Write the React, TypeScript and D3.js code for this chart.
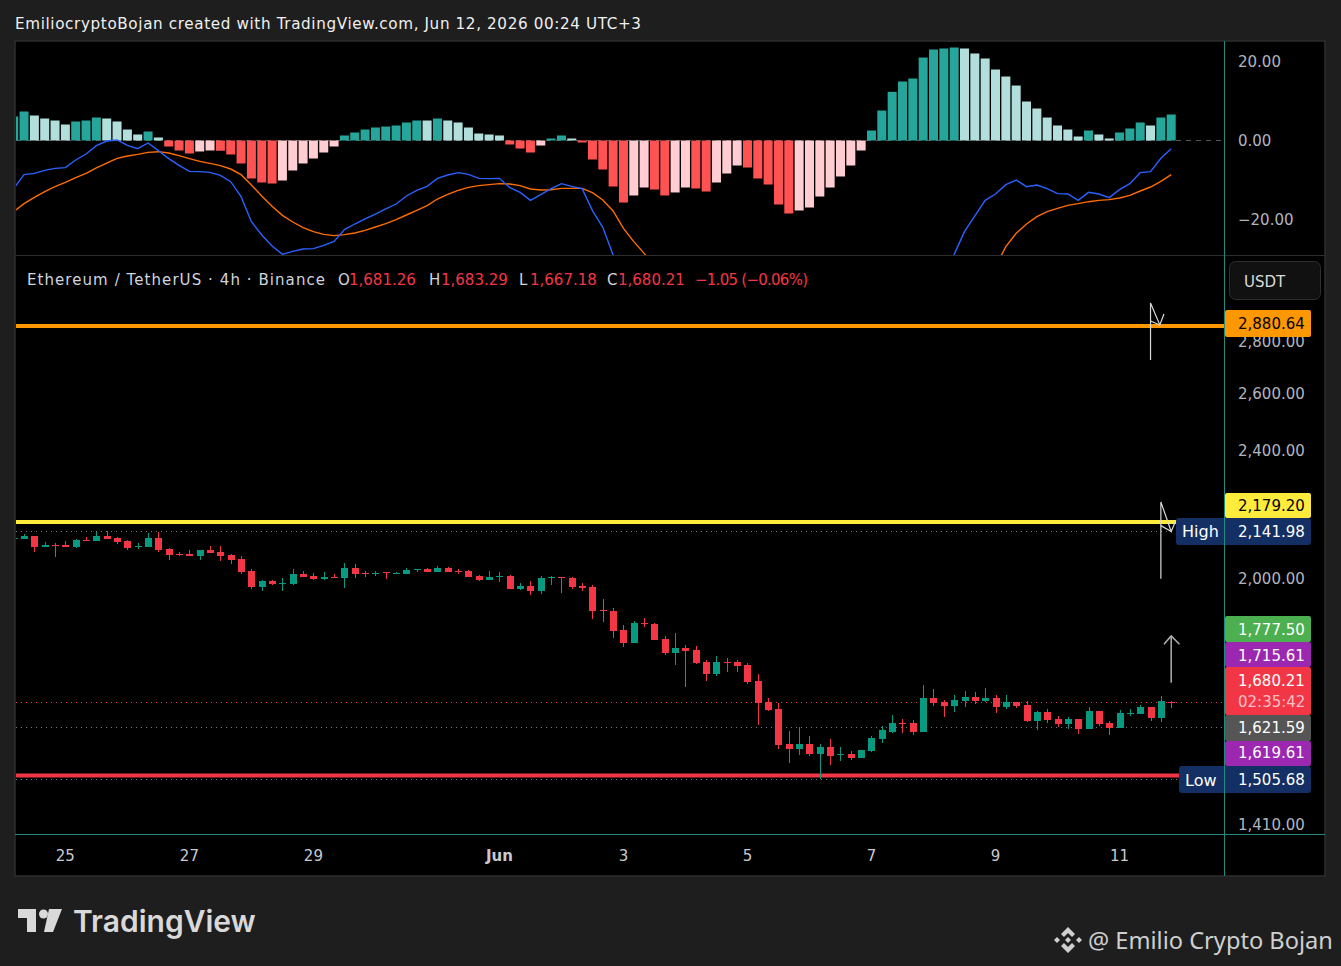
import * as d3 from 'd3';

const opens = [
  2118,2118,2128,2094,2100,2100,2094,2115,2112,2128,
  2121,2112,2094,2094,2121,2089,2074,2074,2068,2086,
  2080,2071,2059,2024,1979,1996,1987,1987,2016,2010,
  2002,2007,2004,2033,2019,2016,2020,2016,2016,2027,
  2030,2022,2033,2024,2024,2010,1999,2007,2010,1973,
  1982,1968,2004,2007,2004,1982,1979,1915,1913,1862,
  1827,1881,1878,1838,1802,1815,1809,1779,1749,1779,
  1779,1771,1731,1681,1664,1584,1572,1584,1561,1577,
  1559,1561,1552,1568,1595,1610,1631,1631,1610,1690,
  1681,1671,1683,1693,1683,1690,1669,1681,1674,1636,
  1657,1641,1629,1641,1617,1659,1631,1620,1652,1652,
  1669,1643,1681.26,
];
const highs = [
  2121,2134,2128,2109,2106,2112,2118,2125,2140,2142,
  2125,2115,2106,2137,2140,2092,2080,2086,2086,2097,
  2097,2074,2068,2030,1999,1999,2004,2030,2024,2019,
  2022,2016,2047,2045,2024,2024,2022,2022,2033,2030,
  2033,2039,2036,2030,2027,2013,2024,2022,2013,1990,
  1996,2010,2010,2007,2007,1990,1985,1945,1921,1875,
  1886,1894,1881,1846,1854,1822,1820,1784,1794,1789,
  1784,1776,1749,1690,1678,1613,1622,1602,1584,1595,
  1577,1568,1570,1602,1624,1650,1640,1638,1722,1712,
  1685,1697,1707,1705,1714,1697,1697,1681,1683,1659,
  1664,1648,1645,1641,1669,1659,1636,1662,1664,1674,
  1669,1695,1683.29,
];
const lows = [
  2118,2118,2080,2094,2065,2094,2092,2112,2112,2118,
  2103,2086,2089,2094,2080,2056,2068,2068,2056,2077,
  2053,2045,2016,1973,1968,1985,1968,1985,2007,1999,
  1999,2004,1976,2004,2007,2010,2002,2016,2016,2022,
  2022,2022,2022,2016,2007,1996,1999,1993,1973,1971,
  1957,1959,1985,1962,1973,1968,1891,1883,1841,1817,
  1827,1870,1835,1797,1771,1717,1774,1731,1744,1754,
  1754,1724,1627,1659,1572,1541,1559,1557,1506,1536,
  1545,1548,1552,1566,1586,1608,1608,1604,1610,1671,
  1645,1657,1669,1676,1681,1655,1664,1666,1634,1615,
  1631,1622,1617,1606,1617,1624,1604,1620,1648,1652,
  1636,1634,1667.18,
];
const closes = [
  2121,2128,2094,2100,2097,2094,2115,2112,2128,2118,
  2109,2092,2097,2121,2086,2071,2071,2068,2086,2077,
  2068,2056,2022,1979,1996,1987,1990,2016,2007,2002,
  2007,2004,2033,2016,2016,2019,2018,2019,2027,2030,
  2022,2033,2022,2022,2007,1999,2007,2010,1973,1982,
  1968,2004,2007,2004,1979,1976,1913,1913,1859,1827,
  1881,1878,1835,1802,1815,1807,1776,1749,1779,1776,
  1769,1729,1678,1662,1581,1572,1584,1561,1577,1557,
  1561,1552,1570,1597,1615,1631,1629,1610,1690,1678,
  1671,1685,1693,1683,1690,1669,1681,1671,1636,1657,
  1638,1629,1641,1617,1659,1629,1620,1655,1655,1669,
  1643,1683,1680.21,
];

// MACD pane
const histogram = [
  6.08,7.34,6.33,5.57,5.06,4.05,4.81,5.06,5.82,5.57,4.81,2.78,1.52,2.28,0.76,
  -1.52,-2.53,-3.29,-2.78,-2.53,-2.6,-3.54,-5.82,-9.62,-10.63,-10.89,-10.13,-7.59,-5.82,-4.56,-3.04,-1.52,
  1.27,2.03,2.78,3.29,3.54,3.8,4.56,5.06,5.06,5.57,5.06,4.56,3.29,1.77,1.52,1.27,
  -1.01,-2.03,-3.04,-1.27,0.51,1.27,0.51,-0.51,
  -4.81,-7.34,-11.65,-15.7,-13.92,-11.9,-12.41,-13.92,-13.16,-11.9,-12.15,-12.91,-10.63,-8.35,-6.33,-6.84,
  -9.62,-11.14,-16.2,-18.48,-17.72,-16.96,-14.18,-11.9,-9.11,-6.33,-2.53,
  2.53,7.59,12.32,14.94,15.7,21.0,23.04,23.29,23.54,23.29,22.03,20.76,17.97,16.2,13.92,9.87,8.1,5.82,3.8,2.78,1.01,
  2.53,1.52,0.51,2.03,3.04,4.56,3.8,5.82,6.58,
];
const off = null; // below the bottom of the pane, not visible
const macdLine: (number | null)[] = [
  -12.11,-8.65,-8.31,-7.55,-7.05,-6.88,-4.94,-3.42,-1.31,-0.13,0.13,-1.22,-2.07,-0.63,-2.57,-4.6,-6.29,-7.81,-7.89,-8.06,
  -8.82,-10.42,-14.22,-20.55,-23.92,-26.71,-28.82,-28.06,-27.47,-27.38,-26.54,-25.53,-22.57,-21.14,-19.87,-18.61,-17.34,-16.08,
  -14.05,-12.62,-11.6,-9.58,-8.73,-8.14,-8.57,-9.58,-9.66,-9.58,-11.94,-13.12,-15.15,-13.71,-12.19,-10.93,-11.6,-12.19,-17.76,-21.98,-28.99,-36,
  off,off,off,off,off,off,off,off,off,off,off,off,off,off,off,off,off,off,off,off,off,off,off,off,off,off,off,off,off,off,
  -35,-28.82,-23.08,-19.11,-15.15,-13.54,-11.18,-10,-11.69,-11.27,-12.19,-13.46,-13.54,-15.15,-13.12,-13.54,-14.47,-12.45,-10.93,-8.14,-7.89,-4.51,-2.07,
];
const signalLine: (number | null)[] = [
  -18.02,-15.99,-14.39,-12.95,-11.69,-10.59,-9.41,-8.31,-6.96,-5.7,-4.51,-3.92,-3.5,-3,-2.83,-3.16,-3.84,-4.6,-5.27,-5.78,
  -6.37,-7.22,-8.65,-11.27,-14.05,-16.67,-18.95,-20.63,-22.07,-23.08,-23.76,-24.09,-23.84,-23.42,-22.74,-21.9,-21.05,-20.04,
  -18.86,-17.68,-16.5,-14.81,-13.63,-12.62,-11.86,-11.43,-11.18,-10.93,-11.01,-11.43,-12.28,-12.53,-12.45,-12.11,-12.11,-12.11,-13.21,-15.06,-17.85,-22.24,-25.61,-28.57,-31.94,
  off,off,off,off,off,off,off,off,off,off,off,off,off,off,off,off,off,off,off,off,off,off,off,off,off,off,off,off,off,off,off,off,
  -31.94,-26.88,-23.5,-21.14,-19.28,-18.02,-17.17,-16.41,-15.99,-15.49,-15.15,-14.98,-14.56,-13.88,-12.78,-11.77,-10.34,-8.65,
];

const macdTicks = [20, 0, -20];
const priceTicks = [2800, 2600, 2400, 2000, 1410];
const timeTickBars = [5, 17, 29, 47, 59, 71, 83, 95, 107];
const timeTickLabels = ['25', '27', '29', 'Jun', '3', '5', '7', '9', '11'];

// horizontal drawings: [price, colour]
const levelLines: [number, string][] = [[2867, '#ff9800'], [2170, '#ffeb3b'], [1514, '#f23645']];
const dottedLevels: [number, string, number][] = [
  [2141.98, '#787b86', 1176],
  [1505.68, '#787b86', 1179],
  [1680.21, '#f23645', 1224],
  [1621.59, '#787b86', 1224],
];
// hand drawn arrows as [bar, price]
const flagA: [number, number][] = [[110, 2732], [110, 2962], [110.9, 2871], [111.3, 2916]];
const flagABarb: [number, number][] = [[110, 2887], [110.9, 2871]];
const flagB: [number, number][] = [[111, 2002], [111, 2233], [112, 2141], [112.4, 2171]];
const flagBBarb: [number, number][] = [[111, 2159], [112, 2141]];
const arrowUp: [number, number][] = [[112, 1727], [112, 1846]];
const arrowHead: [number, number][] = [[111.3, 1824], [112, 1846], [112.8, 1824]];

const FONT = '"DejaVu Sans", sans-serif';
const UP = '#089981';
const DOWN = '#f23645';
const AXIS = '#1f8a7d';
const TICK = '#b2b5be';

export default function App() {
  const width = 1341;
  const height = 966;

  const x = d3.scaleLinear().domain([0, 112]).range([13.7, 1171.2]);
  const yPrice = d3.scaleLog().domain([1410, 2800]).range([825.6, 342.6]);
  const yMacd = d3.scaleLinear().domain([-20, 20]).range([219.5, 61.5]);
  const fmt = d3.format(',.2f');

  const macdPath = d3.line<number | null>()
    .defined(d => d !== null)
    .x((_, i) => x(i))
    .y(d => yMacd(d as number));

  const drawing = d3.line<[number, number]>()
    .x(d => x(d[0]))
    .y(d => yPrice(d[1]));

  const histColor = (i: number) => {
    const v = histogram[i];
    const prev = i > 0 ? histogram[i - 1] : -Infinity;
    if (v >= 0) return v > prev ? '#26a69a' : '#b2dfdb';
    return v < prev ? '#ff5252' : '#ffcdd2';
  };

  const tag = (label: string, top: number, bottom: number, textY: number, fill: string, color: string) => (
    <g key={label + top}>
      <rect x={1225} y={top} width={86} height={bottom - top} rx={2} fill={fill} />
      <text x={1238} y={textY} dominantBaseline="central" fill={color} fontSize={15}>{label}</text>
    </g>
  );

  return (
    <svg width={width} height={height} style={{ position: 'absolute', left: 0, top: 0 }} fontFamily={FONT}>
      <defs>
        <clipPath id="macdClip"><rect x={16} y={42} width={1208} height={213} /></clipPath>
        <clipPath id="priceClip"><rect x={16} y={257} width={1208} height={577} /></clipPath>
      </defs>
      <rect width={width} height={height} fill="#1e1e1e" />
      <rect x={15} y={41} width={1310} height={835} fill="#000" stroke="#2e2e2e" strokeWidth={1.5} />

      <text x={15} y={24} dominantBaseline="central" fill="#f0f0f0" fontSize={15.2} textLength={626}>
        EmiliocryptoBojan created with TradingView.com, Jun 12, 2026 00:24 UTC+3
      </text>

      {/* MACD pane */}
      <g clipPath="url(#macdClip)">
        <line x1={16} x2={1224} y1={yMacd(0)} y2={yMacd(0)} stroke="#555" strokeDasharray="5 5" />
        {histogram.map((v, i) => (
          <rect
            key={i}
            x={x(i) - 4.5}
            y={Math.min(yMacd(v), yMacd(0))}
            width={9}
            height={Math.abs(yMacd(v) - yMacd(0))}
            fill={histColor(i)}
          />
        ))}
        <path d={macdPath(signalLine) ?? ''} fill="none" stroke="#ff6d00" strokeWidth={1.4} />
        <path d={macdPath(macdLine) ?? ''} fill="none" stroke="#2962ff" strokeWidth={1.4} />
      </g>
      {macdTicks.map(t => (
        <text key={t} x={1238} y={yMacd(t)} dominantBaseline="central" fill={TICK} fontSize={15}>
          {fmt(t).replace('-', '\u2212')}
        </text>
      ))}
      <line x1={15} x2={1325} y1={255.5} y2={255.5} stroke="#2e2e2e" />

      {/* legend */}
      <g fontSize={15} dominantBaseline="central">
        <text x={27} y={280} fill="#d1d4dc" textLength={298}>Ethereum / TetherUS · 4h · Binance</text>
        <text x={338} y={280} fill="#d1d4dc">O</text>
        <text x={349} y={280} fill={DOWN}>{fmt(opens[112])}</text>
        <text x={429} y={280} fill="#d1d4dc">H</text>
        <text x={441} y={280} fill={DOWN}>{fmt(highs[112])}</text>
        <text x={519} y={280} fill="#d1d4dc">L</text>
        <text x={530} y={280} fill={DOWN}>{fmt(lows[112])}</text>
        <text x={607} y={280} fill="#d1d4dc">C</text>
        <text x={618} y={280} fill={DOWN}>{fmt(closes[112])}</text>
        <text x={695} y={280} fill={DOWN} textLength={113}>{'\u22121.05 (\u22120.06%)'}</text>
      </g>

      {/* price pane */}
      <g clipPath="url(#priceClip)">
        {dottedLevels.map(([p, c, end]) => (
          <line key={p} x1={16} x2={end} y1={Math.round(yPrice(p)) + 0.5} y2={Math.round(yPrice(p)) + 0.5} stroke={c} strokeDasharray="1 4" shapeRendering="crispEdges" />
        ))}
        {levelLines.map(([p, c]) => (
          <line key={p} x1={16} x2={1224} y1={yPrice(p)} y2={yPrice(p)} stroke={c} strokeWidth={4} />
        ))}
        {opens.map((o, i) => {
          const c = closes[i];
          const color = c >= o ? UP : DOWN;
          const top = yPrice(Math.max(o, c));
          const bottom = yPrice(Math.min(o, c));
          const cx = Math.round(x(i));
          return (
            <g key={i} shapeRendering="crispEdges">
              <line x1={cx + 0.5} x2={cx + 0.5} y1={yPrice(highs[i])} y2={yPrice(lows[i])} stroke={color} />
              <rect x={cx - 3} y={top} width={7} height={Math.max(1, bottom - top)} fill={color} />
            </g>
          );
        })}
        <g fill="none" stroke="#d8d8d8" strokeWidth={1.2}>
          <path d={drawing(flagA) ?? ''} />
          <path d={drawing(flagABarb) ?? ''} />
          <path d={drawing(flagB) ?? ''} />
          <path d={drawing(flagBBarb) ?? ''} />
          <path d={drawing(arrowUp) ?? ''} stroke="#b0b0b0" strokeWidth={1.5} />
          <path d={drawing(arrowHead) ?? ''} stroke="#b0b0b0" strokeWidth={1.5} />
        </g>
      </g>

      {/* price axis */}
      {priceTicks.map(t => (
        <text key={t} x={1238} y={yPrice(t) - 0.5} dominantBaseline="central" fill={TICK} fontSize={15}>{fmt(t)}</text>
      ))}
      <rect x={1229.5} y={261.5} width={91} height={38} rx={6} fill="#111" stroke="#2e2e2e" />
      <text x={1244} y={282} dominantBaseline="central" fill="#dbdbdb" fontSize={15}>USDT</text>

      {tag(fmt(2880.64), 310, 337, 323.5, '#ff9800', '#000')}
      {tag(fmt(2179.2), 493, 518, 505.5, '#ffeb3b', '#000')}
      <rect x={1176} y={518} width={135} height={27} rx={3} fill="#132f63" />
      <text x={1182} y={531.5} dominantBaseline="central" fill="#fff" fontSize={16}>High</text>
      <text x={1238} y={532} dominantBaseline="central" fill="#fff" fontSize={15}>{fmt(highs[9] - 0.02)}</text>
      {tag(fmt(1777.5), 616, 642, 629.5, '#4caf50', '#fff')}
      {tag(fmt(1715.61), 642, 667, 655.5, '#9c27b0', '#fff')}
      <rect x={1225} y={667} width={86} height={48} rx={2} fill={DOWN} />
      <text x={1238} y={681} dominantBaseline="central" fill="#fff" fontSize={15}>{fmt(closes[112])}</text>
      <text x={1238} y={702} dominantBaseline="central" fill="#fbc0c5" fontSize={15}>02:35:42</text>
      {tag(fmt(1621.59), 715, 741, 727.5, '#555555', '#fff')}
      {tag(fmt(1619.61), 741, 766, 752.5, '#9c27b0', '#fff')}
      <rect x={1179} y={766} width={132} height={27} rx={3} fill="#132f63" />
      <text x={1185} y={780} dominantBaseline="central" fill="#fff" fontSize={16}>Low</text>
      <text x={1238} y={780} dominantBaseline="central" fill="#fff" fontSize={15}>{fmt(1505.68)}</text>

      {/* frame lines on top */}
      <line x1={1224.5} x2={1224.5} y1={41} y2={876} stroke={AXIS} />
      <line x1={15} x2={1325} y1={834.5} y2={834.5} stroke={AXIS} />

      {/* time axis */}
      {timeTickBars.map((b, i) => (
        <text
          key={b}
          x={x(b)}
          y={856}
          textAnchor="middle"
          dominantBaseline="central"
          fill="#c8cad0"
          fontSize={15}
          fontWeight={timeTickLabels[i] === 'Jun' ? 700 : 400}
        >
          {timeTickLabels[i]}
        </text>
      ))}

      {/* TradingView mark */}
      <g fill="#d9d9d9">
        <path d="M18 909H36V932H27V918H18Z" />
        <circle cx={43.5} cy={914} r={4.5} />
        <path d="M49 909H62L53 932H44Z" />
        <text x={73} y={921} dominantBaseline="central" fontFamily="Inter, sans-serif" fontWeight={600} fontSize={30}>TradingView</text>
      </g>

      {/* signature */}
      <g fill="#cfcfcf">
        <path d="M1068 927L1075 934L1072 937L1068 933L1064 937L1061 934Z" />
        <path d="M1068 953L1061 946L1064 943L1068 947L1072 943L1075 946Z" />
        <path d="M1068 937L1071 940L1068 943L1065 940Z" />
        <path d="M1057 937L1060 940L1057 943L1054 940Z" />
        <path d="M1079 937L1082 940L1079 943L1076 940Z" />
        <text x={1088} y={939.5} dominantBaseline="central" fontFamily='"Noto Sans", sans-serif' fontSize={23.6}>@ Emilio Crypto Bojan</text>
      </g>
    </svg>
  );
}
